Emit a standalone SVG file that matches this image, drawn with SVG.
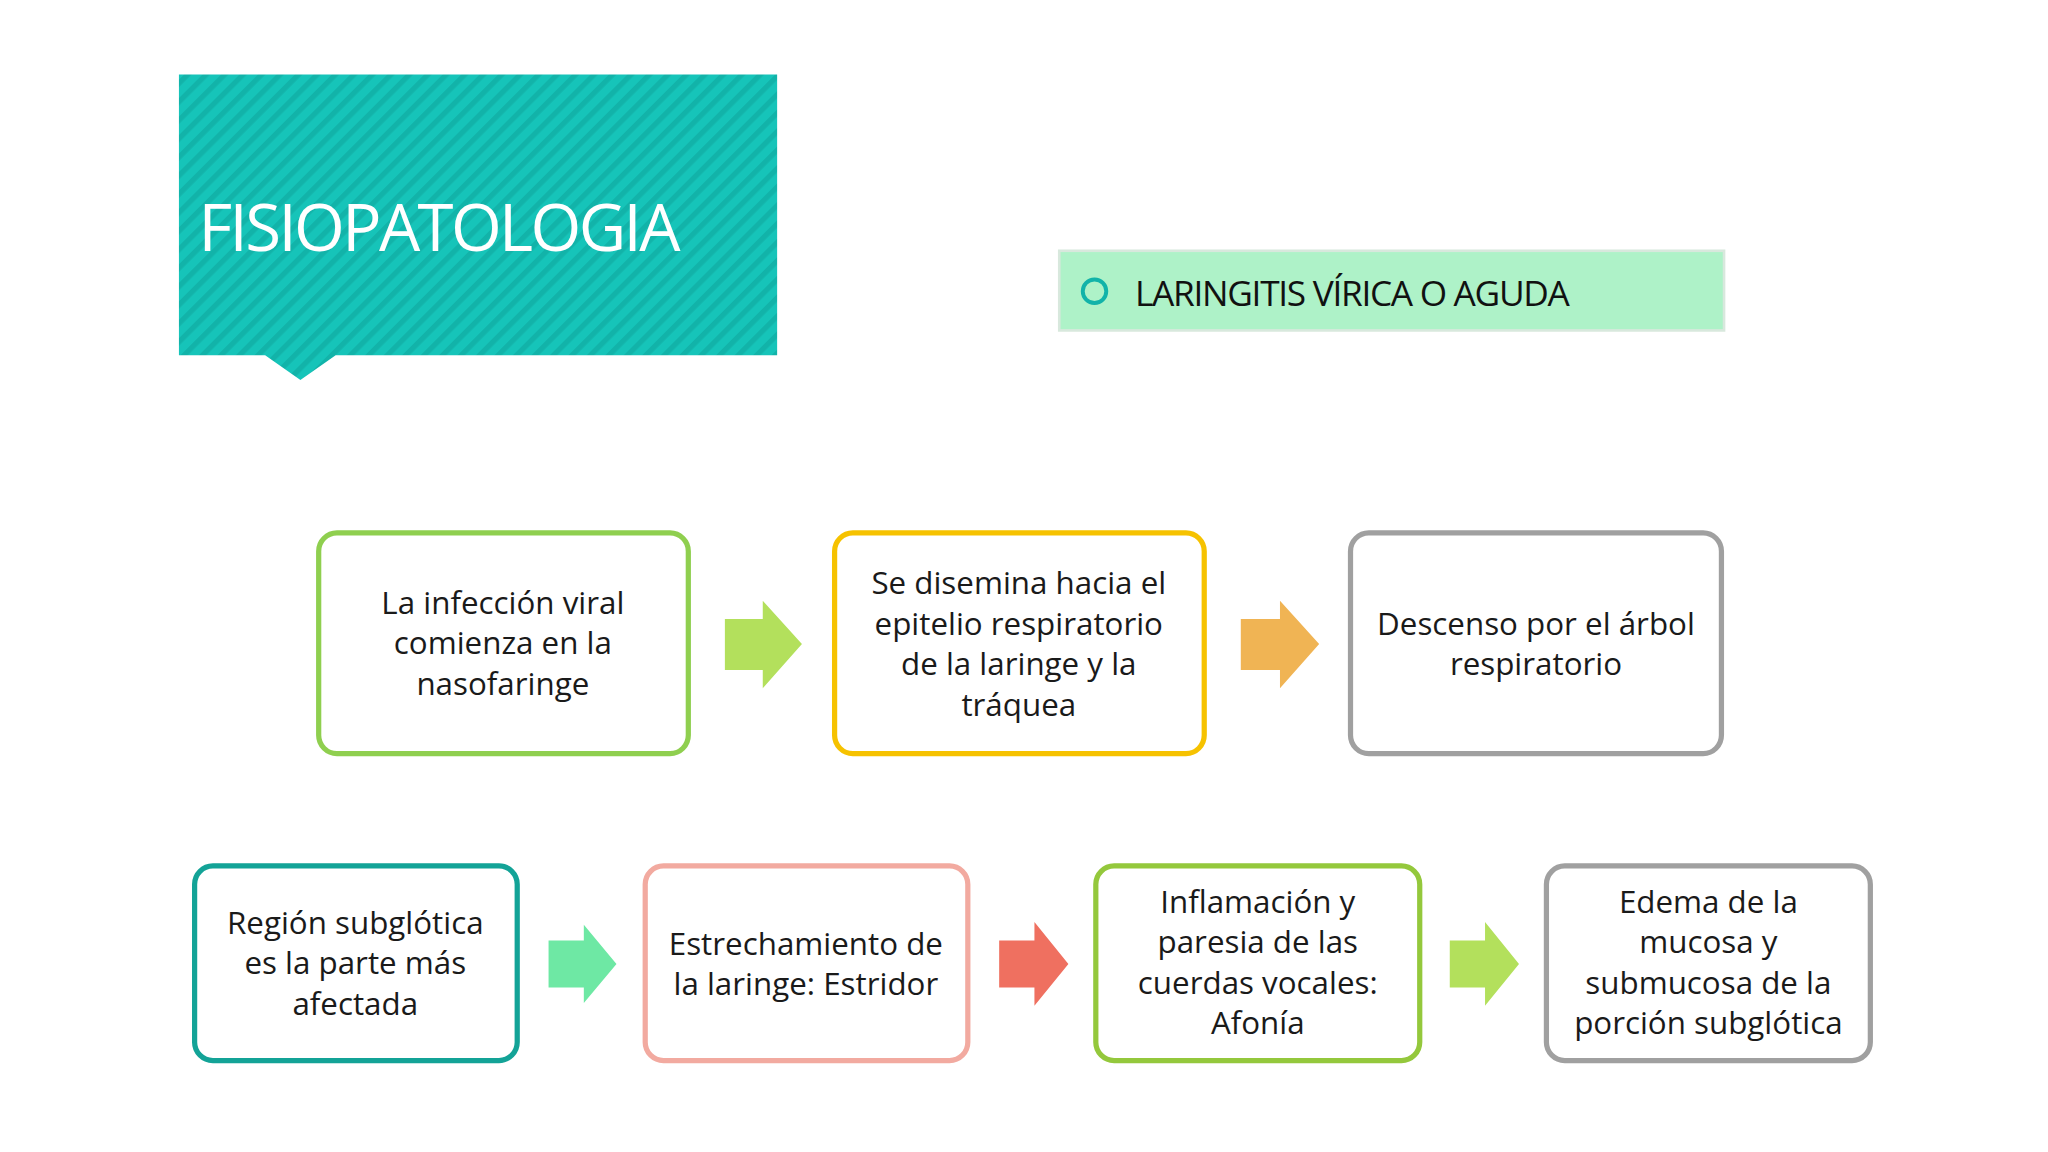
<svg xmlns="http://www.w3.org/2000/svg" width="2048" height="1152" viewBox="0 0 2048 1152">
<defs>
<pattern id="st" width="10" height="10" patternUnits="userSpaceOnUse" patternTransform="rotate(45)"><rect width="10" height="10" fill="#16c4b9"/><rect width="4" height="10" fill="#12b3a9"/></pattern>
<style>
.b{fill:#fff;stroke-width:4}
.t{font-family:"Open Sans","Noto Sans",sans-serif;font-size:24px;fill:#1a1a1a;text-anchor:middle}
</style>
</defs>
<rect width="2048" height="1152" fill="#fff"/>
<g transform="scale(1.3061)">
<g id="title">
<path d="M137,57 H595 V272 H257 L230,291 L203,272 H137 Z" fill="url(#st)"/>
<text x="152" y="192" font-family="Open Sans,sans-serif" font-size="50" fill="#fff" letter-spacing="-2">FISIOPATOLOGIA</text>
</g>
<g id="banner">
<rect x="811" y="192" width="509" height="61" fill="#aef2c8" stroke="#d8e8dd" stroke-width="2"/>
<circle cx="838" cy="223" r="9" fill="none" stroke="#12b3a9" stroke-width="3"/>
<text x="869" y="234" font-family="Open Sans,sans-serif" font-size="27" fill="#111" letter-spacing="-1">LARINGITIS VÍRICA O AGUDA</text>
</g>
<g id="n1"><rect class="b" x="244" y="408" width="283" height="169" rx="14" stroke="#8fcf4f"/><text class="t"><tspan x="385" y="470">La infección viral</tspan><tspan x="385" y="501">comienza en la</tspan><tspan x="385" y="532">nasofaringe</tspan></text></g>
<g id="n2"><rect class="b" x="639" y="408" width="283" height="169" rx="14" stroke="#f6c200"/><text class="t"><tspan x="780" y="455">Se disemina hacia el</tspan><tspan x="780" y="486">epitelio respiratorio</tspan><tspan x="780" y="517">de la laringe y la</tspan><tspan x="780" y="548">tráquea</tspan></text></g>
<g id="n3"><rect class="b" x="1034" y="408" width="284" height="169" rx="14" stroke="#a0a0a0"/><text class="t"><tspan x="1176" y="486">Descenso por el árbol</tspan><tspan x="1176" y="517">respiratorio</tspan></text></g>
<g id="n4"><rect class="b" x="149" y="663" width="247" height="149" rx="14" stroke="#13a397"/><text class="t"><tspan x="272" y="715">Región subglótica</tspan><tspan x="272" y="746">es la parte más</tspan><tspan x="272" y="777">afectada</tspan></text></g>
<g id="n5"><rect class="b" x="494" y="663" width="247" height="149" rx="14" stroke="#f2aaa0"/><text class="t"><tspan x="617" y="731">Estrechamiento de</tspan><tspan x="617" y="762">la laringe: Estridor</tspan></text></g>
<g id="n6"><rect class="b" x="839" y="663" width="248" height="149" rx="14" stroke="#94c83c"/><text class="t"><tspan x="963" y="699">Inflamación y</tspan><tspan x="963" y="730">paresia de las</tspan><tspan x="963" y="761">cuerdas vocales:</tspan><tspan x="963" y="792">Afonía</tspan></text></g>
<g id="n7"><rect class="b" x="1184" y="663" width="248" height="149" rx="14" stroke="#a0a0a0"/><text class="t"><tspan x="1308" y="699">Edema de la</tspan><tspan x="1308" y="730">mucosa y</tspan><tspan x="1308" y="761">submucosa de la</tspan><tspan x="1308" y="792">porción subglótica</tspan></text></g>
<g id="connectors">
<path d="M555,474 H584 V460 L614,493 L584,527 V513 H555 Z" fill="#b3e05c"/>
<path d="M950,474 H980 V460 L1010,493 L980,527 V513 H950 Z" fill="#f0b454"/>
<path d="M420,720 H447 V708 L472,738 L447,768 V756 H420 Z" fill="#6ee8a4"/>
<path d="M765,720 H792 V706 L818,738 L792,770 V756 H765 Z" fill="#ef7060"/>
<path d="M1110,720 H1137 V706 L1163,738 L1137,770 V756 H1110 Z" fill="#b3e05c"/>
</g>
</g>
</svg>
